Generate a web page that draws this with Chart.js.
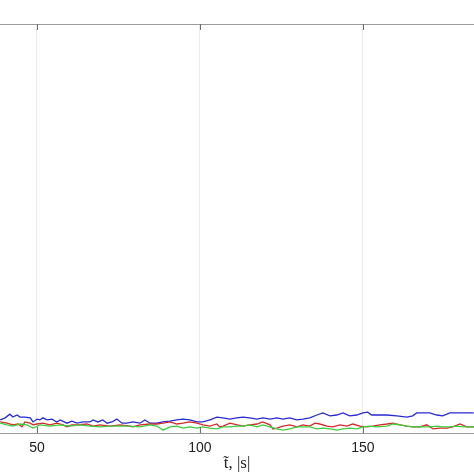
<!DOCTYPE html>
<html>
<head>
<meta charset="utf-8">
<script src="https://cdn.jsdelivr.net/npm/chart.js@4.4.1/dist/chart.umd.min.js"></script>
<style>
html,body{margin:0;padding:0;background:#fff;}
#wrap{width:474px;height:474px;position:relative;}
</style>
</head>
<body>
<div id="wrap"><canvas id="c"></canvas></div>
<script>
// ---- data ----
const tickValues = [50, 100, 150];
const xTitle = 't\u0303, |s|';

const tBlue = [38.7,40.2,41.7,42.6,43.9,44.8,46.3,47.9,48.8,50,50.9,51.8,53.1,54.6,56.1,57.1,59.2,60.7,62.3,64.1,66.3,67.2,68.7,70.2,71.5,73.0,74.5,76.1,77.6,79.4,81.6,83.1,84.7,86.8,88.6,90.8,92.9,94.8,96.9,99.1,100.9,103.1,105.2,107.0,109.2,111.3,113.2,115.3,117.5,119.3,121.5,123.6,125.4,127.6,129.7,131.6,133.7,135.9,137.7,139.9,142.0,143.9,146.0,148.1,150.0,151.5,152.7,154.3,157.3,160.4,163.5,165.3,166.5,168.4,170.5,172.7,174.5,176.7,178.8,180.7,182.8,184.0];
const blue = [3.2,3.7,4.6,3.9,4.4,3.9,3.9,3.7,2.7,3.4,3.2,3.7,3.2,3.4,2.7,3.2,2.4,2.9,2.4,2.7,2.7,3.2,2.7,3.2,2.4,2.7,3.4,2.4,2.4,2.7,2.4,3.2,2.4,2.4,2.7,2.9,3.2,3.4,3.2,2.7,2.7,3.2,3.9,3.7,3.4,3.7,3.9,3.7,3.4,3.7,3.4,3.7,3.4,3.7,3.2,3.4,3.7,4.4,4.9,4.2,4.4,4.9,4.2,4.4,4.9,5.1,4.4,4.4,4.4,4.2,3.9,4.2,4.9,4.9,4.9,4.4,4.2,4.9,4.9,4.9,4.9,4.9];

const tRed = [38.7,40.8,42.6,44.2,45.4,46.3,47.9,48.8,50.0,51.8,54.0,56.1,58.0,59.2,60.7,62.3,65.3,67.2,69.3,72.4,75.5,78.5,79.4,81.6,84.7,86.8,88.7,90.8,92.9,94.8,96.9,99.1,100.9,103.1,105.2,106.1,107.1,109.2,111.4,113.2,115.3,117.5,119.3,121.5,122.4,123.6,125.5,127.6,129.8,131.6,133.7,135.3,136.8,139.0,140.8,143.0,145.1,146.9,149.1,151.2,153.1,155.2,157.4,159.2,161.4,163.5,165.3,167.5,169.6,171.5,173.6,175.8,177.6,179.8,181.9,184.1];
const red = [2.7,2.4,2.0,2.2,1.5,2.7,2.4,2.0,2.2,2.4,2.0,2.4,2.0,1.5,2.0,2.0,2.2,1.7,2.0,1.7,2.0,1.7,1.5,2.0,2.2,2.2,2.4,2.7,2.2,2.4,2.7,2.4,2.0,1.7,2.2,1.5,1.7,2.4,2.0,1.7,2.0,2.2,2.7,2.0,1.0,1.2,1.7,2.0,1.5,2.0,1.7,2.4,2.2,1.7,1.5,2.0,1.7,2.2,1.7,1.5,1.7,2.0,2.2,2.4,2.0,1.7,1.5,1.5,2.0,1.0,1.2,1.2,1.5,2.2,1.5,1.5];

const tGreen = [38.7,40.8,42.6,44.8,46.9,48.8,50.9,54.0,57.1,60.1,63.2,66.3,69.3,72.4,75.5,78.5,81.6,84.7,86.8,88.7,90.8,92.9,94.8,96.9,99.1,100.9,103.1,105.2,107.1,109.2,111.4,113.2,115.3,117.5,119.3,121.5,123.6,125.5,127.6,129.8,131.6,133.7,135.9,137.7,139.9,142.0,143.9,146.0,148.2,150.0,152.1,154.3,157.4,159.2,161.4,163.5,165.3,168.4,170.6,172.7,174.5,176.7,178.8,180.7,182.8,184.1];
const green = [2.4,2.0,1.7,2.2,2.0,1.2,2.0,1.7,2.0,1.7,2.0,1.7,1.5,1.7,1.7,1.7,1.5,2.0,1.7,0.7,1.5,1.7,1.2,1.5,1.2,1.5,1.2,1.0,1.5,1.5,1.7,1.7,2.0,1.5,2.0,1.5,1.0,0.7,1.0,1.5,1.5,1.5,1.0,1.2,1.0,0.7,1.0,1.2,1.0,1.5,1.7,1.5,1.7,2.2,2.0,1.7,1.5,1.5,1.5,1.7,1.5,1.5,1.7,1.5,1.5,1.5];

const xMin = 38.65, xMax = 184.1;
const yMin = 0, yMax = 100;

function pts(t, v) { return t.map((x, i) => ({ x: x, y: v[i] })); }

const frame = {
  id: 'frame',
  afterDraw(chart) {
    const ctx = chart.ctx, a = chart.chartArea, xs = chart.scales.x;
    ctx.save();
    ctx.strokeStyle = '#9a9a9a';
    ctx.lineWidth = 1;
    ctx.beginPath();
    ctx.moveTo(a.left, a.top + 0.5);
    ctx.lineTo(a.right, a.top + 0.5);
    ctx.stroke();
    ctx.strokeStyle = '#707070';
    ctx.beginPath();
    tickValues.forEach(v => {
      const px = Math.round(xs.getPixelForValue(v)) + 0.5;
      ctx.moveTo(px, a.top); ctx.lineTo(px, a.top + 6);
      ctx.moveTo(px, a.bottom); ctx.lineTo(px, a.bottom - 6);
    });
    ctx.stroke();
    ctx.restore();
  }
};

new Chart(document.getElementById('c'), {
  type: 'line',
  data: {
    datasets: [
      { label: 'green', data: pts(tGreen, green), borderColor: '#3ecf3e', borderWidth: 1.3, pointRadius: 0, tension: 0, fill: false },
      { label: 'red', data: pts(tRed, red), borderColor: '#d42a2a', borderWidth: 1.3, pointRadius: 0, tension: 0, fill: false },
      { label: 'blue', data: pts(tBlue, blue), borderColor: '#2a2ad2', borderWidth: 1.3, pointRadius: 0, tension: 0, fill: false }
    ]
  },
  options: {
    responsive: true,
    maintainAspectRatio: false,
    animation: false,
    layout: { padding: { top: 24, left: 0, right: 0, bottom: 0 } },
    plugins: { legend: { display: false }, tooltip: { enabled: false } },
    scales: {
      x: {
        type: 'linear',
        min: xMin, max: xMax,
        afterBuildTicks(s) { s.ticks = tickValues.map(v => ({ value: v })); },
        afterFit(s) { s.height = 41; },
        grid: { color: '#ebebeb', drawTicks: false, lineWidth: 1 },
        border: { display: true, color: '#9a9a9a', width: 1 },
        ticks: { color: '#222', padding: 7, font: { family: 'Liberation Sans', size: 14 }, maxRotation: 0 },
        title: { display: true, text: xTitle, color: '#222', padding: { top: 0, bottom: 0 }, font: { family: 'Liberation Serif', size: 17 } }
      },
      y: {
        display: false,
        min: yMin, max: yMax
      }
    }
  },
  plugins: [frame]
});
</script>
</body>
</html>
